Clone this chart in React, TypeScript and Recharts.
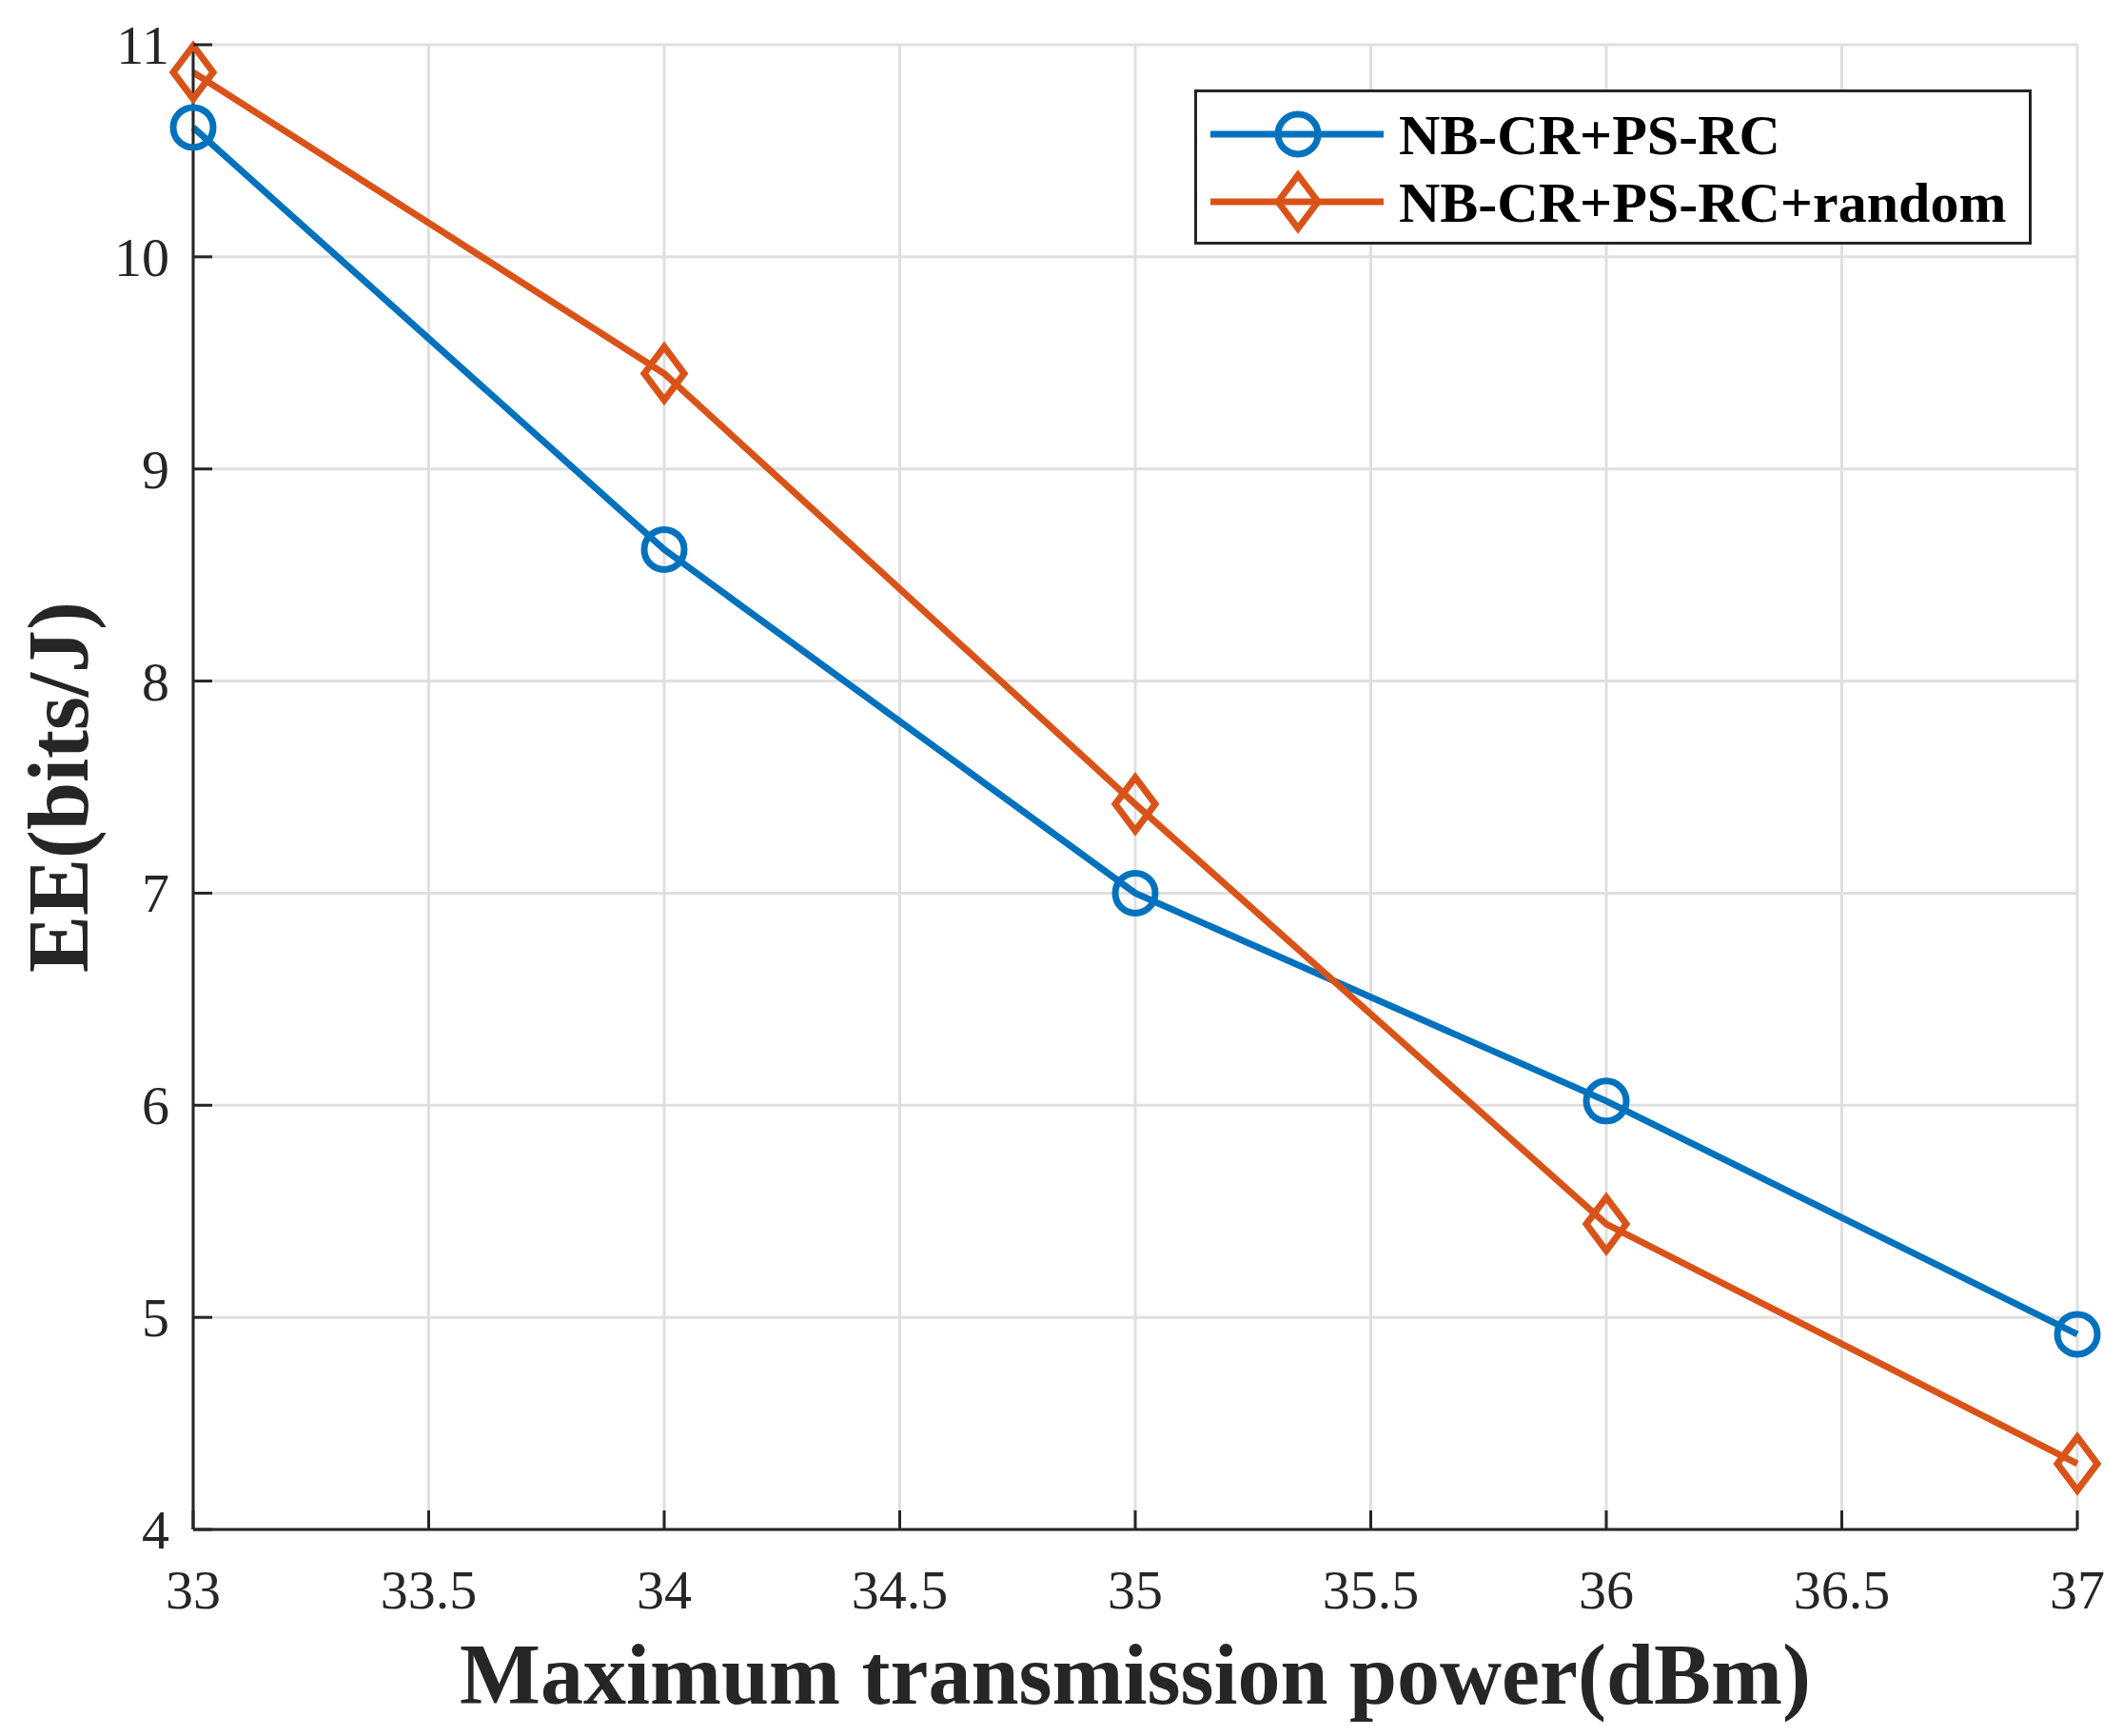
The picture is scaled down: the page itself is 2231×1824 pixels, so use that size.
import React from "react";
import { LineChart, Line, XAxis, YAxis, CartesianGrid, Legend } from "recharts";

// values
const powerDbm = [33, 34, 35, 36, 37];
const eeProposed = [10.61, 8.62, 7.0, 6.02, 4.92];
const eeRandom = [10.87, 9.45, 7.42, 5.44, 4.31];
const xTicks = [33, 33.5, 34, 34.5, 35, 35.5, 36, 36.5, 37];
const yTicks = [4, 5, 6, 7, 8, 9, 10, 11];
const seriesNames = ["NB-CR+PS-RC", "NB-CR+PS-RC+random"];

const data = powerDbm.map((p, i) => ({
  power: p,
  proposed: eeProposed[i],
  random: eeRandom[i],
}));

const BLUE = "#0072BD";
const ORANGE = "#D95319";
const AXIS = "#262626";
const GRID = "#dfdfdf";
const FONT = "'Liberation Serif', 'Times New Roman', serif";
const TICK_LEN = 20;

const BottomTick = ({ x, y, payload }: any) => (
  <g>
    <line x1={x} y1={y} x2={x} y2={y - TICK_LEN} stroke={AXIS} strokeWidth={3} />
    <text x={x} y={y + 83} textAnchor="middle" fontFamily={FONT} fontSize={58} fill={AXIS}>
      {payload.value}
    </text>
  </g>
);

const TopTick = ({ x, y }: any) => (
  <line x1={x} y1={y} x2={x} y2={y + TICK_LEN} stroke={AXIS} strokeWidth={3} />
);

const LeftTick = ({ x, y, payload }: any) => (
  <g>
    <line x1={x} y1={y} x2={x + TICK_LEN} y2={y} stroke={AXIS} strokeWidth={3} />
    <text
      x={x - 25}
      y={y + 20}
      textAnchor="end"
      fontFamily={FONT}
      fontSize={58}
      fill={AXIS}
    >
      {payload.value}
    </text>
  </g>
);

const RightTick = ({ x, y }: any) => (
  <line x1={x} y1={y} x2={x - TICK_LEN} y2={y} stroke={AXIS} strokeWidth={3} />
);

const CircleDot = ({ cx, cy, index }: any) => (
  <circle key={`c-${index}`} cx={cx} cy={cy} r={21} fill="none" stroke={BLUE} strokeWidth={7} />
);

const DiamondDot = ({ cx, cy, index }: any) => (
  <polygon
    key={`d-${index}`}
    points={`${cx},${cy - 28} ${cx + 21},${cy} ${cx},${cy + 28} ${cx - 21},${cy}`}
    fill="none"
    stroke={ORANGE}
    strokeWidth={7}
    strokeLinejoin="miter"
  />
);

const LegendBox = () => (
  <svg width={880} height={163} style={{ display: "block" }}>
    <rect x={1.5} y={1.5} width={877} height={160} fill="#fff" stroke={AXIS} strokeWidth={3} />
    <line x1={17} y1={47} x2={199} y2={47} stroke={BLUE} strokeWidth={7} />
    <circle cx={109} cy={47} r={21} fill="none" stroke={BLUE} strokeWidth={7} />
    <text x={215} y={68} fontFamily={FONT} fontWeight="bold" fontSize={60} fill="#000">
      {seriesNames[0]}
    </text>
    <line x1={17} y1={118} x2={199} y2={118} stroke={ORANGE} strokeWidth={7} />
    <polygon
      points="109,90 130,118 109,146 88,118"
      fill="none"
      stroke={ORANGE}
      strokeWidth={7}
    />
    <text x={215} y={139} fontFamily={FONT} fontWeight="bold" fontSize={60} fill="#000">
      {seriesNames[1]}
    </text>
  </svg>
);

export default function App() {
  return (
    <div style={{ width: 2231, height: 1824, background: "#fff" }}>
      <style>{`body{margin:0;background:#fff}`}</style>
      <LineChart
        width={2231}
        height={1824}
        data={data}
        margin={{ top: 47, right: 48, left: 0, bottom: 0 }}
      >
        <CartesianGrid
          xAxisId="bottom"
          yAxisId="left"
          stroke={GRID}
          strokeWidth={3}
          horizontalValues={yTicks}
          verticalValues={xTicks}
        />
        <XAxis
          xAxisId="bottom"
          dataKey="power"
          type="number"
          domain={[33, 37]}
          ticks={xTicks}
          interval={0}
          height={217}
          tickSize={0}
          tickMargin={0}
          tickLine={false}
          tick={BottomTick}
          axisLine={{ stroke: AXIS, strokeWidth: 3 }}
          label={{
            content: ({ viewBox }: any) => (
              <text
                x={viewBox.x + viewBox.width / 2}
                y={1790}
                textAnchor="middle"
                fontFamily={FONT}
                fontWeight="bold"
                fontSize={90}
                fill={AXIS}
              >
                Maximum transmission power(dBm)
              </text>
            ),
          }}
        />
        <XAxis
          xAxisId="top"
          orientation="top"
          dataKey="power"
          type="number"
          domain={[33, 37]}
          ticks={xTicks}
          interval={0}
          height={0}
          tickSize={0}
          tickMargin={0}
          tickLine={false}
          tick={TopTick}
          axisLine={{ stroke: AXIS, strokeWidth: 3 }}
        />
        <YAxis
          yAxisId="left"
          type="number"
          domain={[4, 11]}
          ticks={yTicks}
          interval={0}
          width={203}
          tickSize={0}
          tickMargin={0}
          tickLine={false}
          tick={LeftTick}
          axisLine={{ stroke: AXIS, strokeWidth: 3 }}
          label={{
            content: ({ viewBox }: any) => {
              const cy = viewBox.y + viewBox.height / 2;
              return (
                <text
                  x={61}
                  y={cy}
                  transform={`rotate(-90, 61, ${cy})`}
                  textAnchor="middle"
                  dominantBaseline="central"
                  fontFamily={FONT}
                  fontWeight="bold"
                  fontSize={90}
                  fill={AXIS}
                >
                  EE(bits/J)
                </text>
              );
            },
          }}
        />
        <YAxis
          yAxisId="right"
          orientation="right"
          type="number"
          domain={[4, 11]}
          ticks={yTicks}
          interval={0}
          width={0}
          tickSize={0}
          tickMargin={0}
          tickLine={false}
          tick={RightTick}
          axisLine={{ stroke: AXIS, strokeWidth: 3 }}
        />
        <Line
          xAxisId="bottom"
          yAxisId="left"
          dataKey="proposed"
          name={seriesNames[0]}
          stroke={BLUE}
          strokeWidth={7}
          dot={CircleDot}
          activeDot={false}
          isAnimationActive={false}
        />
        <Line
          xAxisId="bottom"
          yAxisId="left"
          dataKey="random"
          name={seriesNames[1]}
          stroke={ORANGE}
          strokeWidth={7}
          dot={DiamondDot}
          activeDot={false}
          isAnimationActive={false}
        />
        <Legend
          layout="horizontal"
          verticalAlign="middle"
          align="center"
          content={LegendBox}
          wrapperStyle={{ left: 1255, top: 94, width: 880, height: 163 }}
        />
      </LineChart>
    </div>
  );
}
